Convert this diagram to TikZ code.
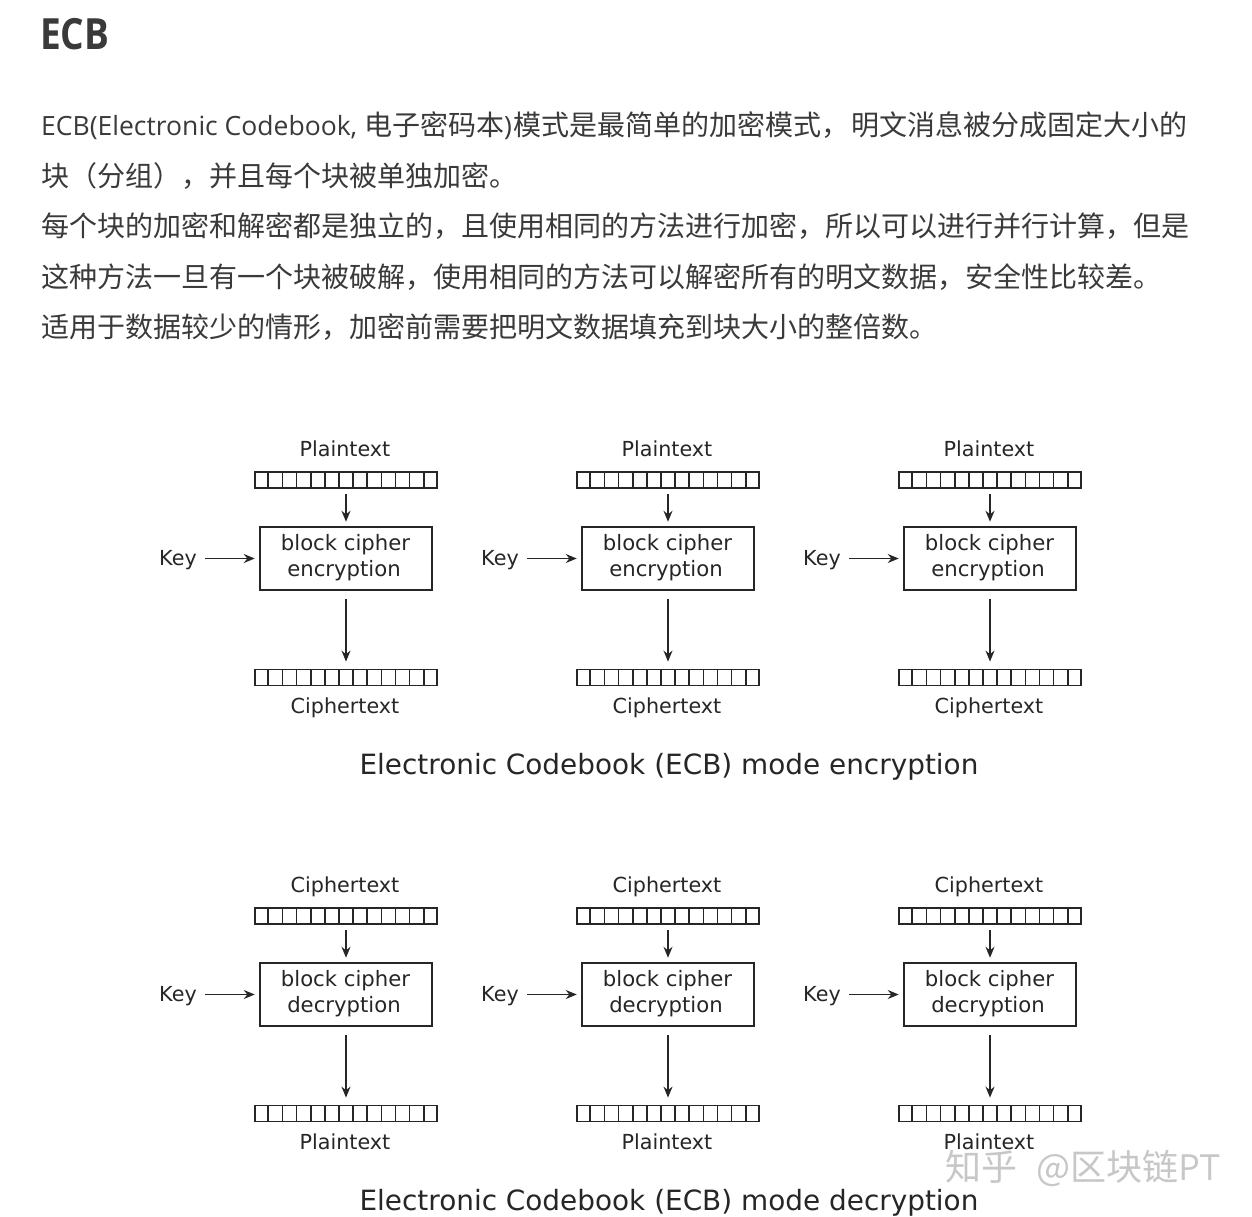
\documentclass[tikz,border=0pt]{standalone}
\usepackage{fontspec}
\setmainfont{DejaVu Sans}
\newfontfamily\cjkf{Noto Sans CJK SC}
\newfontfamily\latf{Open Sans}
\newfontfamily\titlef[FakeStretch=0.86]{Open Sans}
\newcommand{\parafont}{\fontsize{28}{28}\selectfont}
\newcommand{\lt}[1]{{\latf\fontsize{26.5}{28}\selectfont #1}}
\definecolor{bodyink}{HTML}{3A3A3A}
\definecolor{figink}{HTML}{262626}
\usetikzlibrary{arrows.meta,calc}
\tikzset{
  x=1pt,y=-1pt,
  paraline/.style={anchor=base west,inner sep=0pt,text=bodyink,font=\cjkf\parafont},
  figlabel/.style={anchor=base,inner sep=0pt,text=figink,font=\fontsize{20.7}{26}\selectfont,align=center},
  figcaption/.style={inner sep=0pt,text=figink,font=\fontsize{27.9}{30}\selectfont},
  cipherbox/.style={draw=figink,line width=1.5pt,minimum width=172pt,minimum height=63pt,inner sep=0pt,text=figink,font=\fontsize{21.2}{26}\selectfont,align=center},
  barbox/.style={draw=figink,line width=1.8pt,minimum width=182pt,minimum height=16pt,inner sep=0pt},
  barline/.style={draw=figink,line width=1.7pt},
  flow/.style={draw=figink,line width=1.5pt,-{Stealth[length=11pt,width=9pt]}},
}
\newcommand{\cellsin}[1]{%
  \foreach \k in {1,...,12}{\draw[barline] ($(#1.west)!\k/13!(#1.east)+(0,-8)$) -- ($(#1.west)!\k/13!(#1.east)+(0,8)$);}}
% #1 id, #2 x centre, #3 y offset, #4 top label, #5 box second line, #6 bottom label
\newcommand{\ecbcol}[6]{%
  \node[figlabel] (top#1) at (#2-1,#3+456) {#4};
  \node[barbox] (bara#1) at (#2,#3+480) {};
  \cellsin{bara#1}
  \node[cipherbox] (box#1) at (#2,#3+558.5) {\kern-1pt block cipher\\[0pt]\kern-4pt #5\rule[-7pt]{0pt}{1pt}};
  \node[barbox] (barb#1) at (#2,#3+677.5) {};
  \cellsin{barb#1}
  \node[figlabel] (bot#1) at (#2-1,#3+713) {#6};
  \node[figlabel] (key#1) at (#2-168,#3+565) {Key};
  \coordinate (keyend#1) at (#2-141,#3+558.5);
  \draw[flow] ($(bara#1.south)+(0,5)$) -- ($(box#1.north)+(0,-4.5)$);
  \draw[flow] ($(box#1.south)+(0,8)$) -- ($(barb#1.north)+(0,-7)$);
  \draw[flow] (keyend#1) -- ($(box#1.west)+(-4.5,0)$);
}
\begin{document}
\begin{tikzpicture}
\useasboundingbox[fill=white] (0,0) rectangle (1252,1217);
\node[anchor=base west,inner sep=0pt,text=bodyink,font=\titlef\bfseries\fontsize{43}{44}\selectfont] (title) at (40,50) {ECB};
\node[paraline] (p1) at (41,136) {\lt{ECB(Electronic Codebook, }电子密码本\lt{)}\kern2pt 模式是最简单的加密模式，\kern2pt 明文消息被分成固定大小的};
\node[paraline] (p2) at (41,186) {块（分组），并且每个块被单独加密。};
\node[paraline] (p3) at (41,236) {每个块的加密和解密都是独立的，且使用相同的方法进行加密，所以可以进行并行计算，但是};
\node[paraline] (p4) at (41,287) {这种方法一旦有一个块被破解，使用相同的方法可以解密所有的明文数据，安全性比较差。};
\node[paraline] (p5) at (41,337) {适用于数据较少的情形，加密前需要把明文数据填充到块大小的整倍数。};
\foreach \id/\cx in {a/346,b/668,c/990}{
  \ecbcol{e\id}{\cx}{0}{Plaintext}{encryption}{Ciphertext}
  \ecbcol{d\id}{\cx}{436}{Ciphertext}{decryption}{Plaintext}
}
\node[figcaption] (cape) at (669,767) {Electronic Codebook (ECB) mode encryption};
\node[figcaption] (capd) at (669,1203) {Electronic Codebook (ECB) mode decryption};
\node[anchor=base west,inner sep=0pt,text=black!22,font=\cjkf\fontsize{36}{36}\selectfont] (mark) at (945,1180) {知乎\hspace{19pt}@区块链{\latf PT}};
\end{tikzpicture}
\end{document}
